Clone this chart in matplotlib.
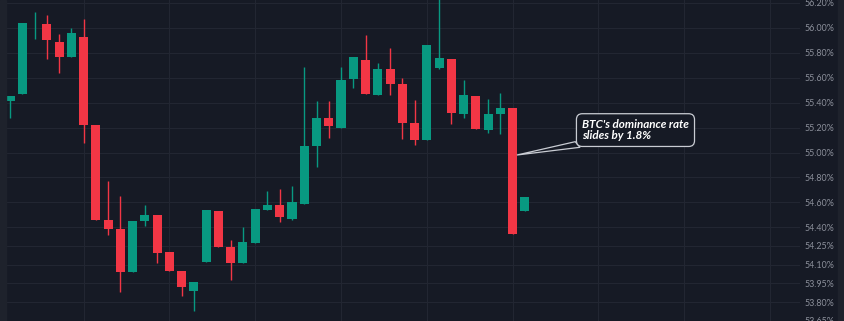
import matplotlib
matplotlib.use('Agg')
import matplotlib.pyplot as plt
from matplotlib.patches import Rectangle, Polygon

# datos de velas (dominancia BTC, %)
abre = [55.41, 55.47, 56.03, 56.03, 55.89, 55.77, 55.93, 55.22, 54.46, 54.39,
        54.04, 54.45, 54.50, 54.20, 54.05, 53.89, 54.12, 54.53, 54.24, 54.11,
        54.27, 54.54, 54.58, 54.47, 54.59, 55.05, 55.28, 55.20, 55.59, 55.74,
        55.46, 55.67, 55.55, 55.24, 55.10, 55.68, 55.75, 55.31, 55.45, 55.18,
        55.31, 55.36, 54.53]
maximo = [55.45, 56.04, 56.13, 56.10, 55.95, 56.00, 56.07, 55.22, 54.77, 54.65,
          54.45, 54.58, 54.50, 54.20, 54.05, 53.96, 54.54, 54.53, 54.30, 54.40,
          54.55, 54.69, 54.71, 54.73, 55.69, 55.41, 55.41, 55.69, 55.77, 55.94,
          55.72, 55.84, 55.60, 55.42, 55.86, 56.30, 55.75, 55.58, 55.45, 55.43,
          55.48, 55.36, 54.64]
minimo = [55.28, 55.47, 55.91, 55.75, 55.64, 55.77, 55.08, 54.46, 54.34, 53.88,
          54.04, 54.41, 54.11, 54.05, 53.85, 53.73, 54.12, 54.24, 53.98, 54.11,
          54.27, 54.54, 54.44, 54.46, 54.59, 54.88, 55.12, 55.20, 55.52, 55.47,
          55.46, 55.46, 55.11, 55.06, 55.10, 55.67, 55.23, 55.28, 55.19, 55.16,
          55.15, 54.35, 54.53]
cierre = [55.45, 56.04, 56.035, 55.90, 55.77, 55.96, 55.22, 54.46, 54.39, 54.04,
          54.45, 54.50, 54.19, 54.05, 53.92, 53.96, 54.54, 54.24, 54.11, 54.28,
          54.55, 54.58, 54.48, 54.60, 55.05, 55.28, 55.21, 55.58, 55.77, 55.47,
          55.67, 55.55, 55.24, 55.10, 55.86, 55.76, 55.32, 55.46, 55.19, 55.31,
          55.36, 54.35, 54.64]

marcas_y = [56.20, 56.00, 55.80, 55.60, 55.40, 55.20, 55.00, 54.80, 54.60,
            54.40, 54.25, 54.10, 53.95, 53.80, 53.65]
etiquetas_y = ['%.2f%%' % v for v in marcas_y]

texto_nota = "BTC's dominance rate\nslides by 1.8%"
vela_nota = 41      # vela a la que apunta la nota
valor_nota = 54.98

fondo = '#161a25'
verde = '#089981'
rojo = '#f23645'
rejilla = '#222632'

fig = plt.figure(figsize=(8.45, 3.21), dpi=100, facecolor=fondo)
fig.patches.append(Rectangle((0, 0), 6 / 845, 1, transform=fig.transFigure,
                             color='#1e222c', zorder=0))
fig.patches.append(Rectangle((838 / 845, 0), 7 / 845, 1, transform=fig.transFigure,
                             color='#1e222c', zorder=0))
ax = fig.add_axes([6 / 845, 0, 794 / 845, 1])
ax.set_facecolor(fondo)

x = range(len(abre))
for i in x:
    color = verde if cierre[i] >= abre[i] else rojo
    ax.vlines(i, minimo[i], maximo[i], color=color, linewidth=1.0, zorder=2)
    base = min(abre[i], cierre[i])
    alto = abs(cierre[i] - abre[i])
    ax.bar(i, alto, bottom=base, width=0.74, color=color, zorder=3)

ax.set_xlim(-0.33, 64.44)
ax.set_ylim(53.648, 56.224)

ax.set_yticks(marcas_y)
ax.set_yticklabels(etiquetas_y)
ax.yaxis.tick_right()
ax.tick_params(axis='y', length=0, pad=3.6, labelsize=6.4, labelcolor='#8c909b')
for t in ax.get_yticklabels():
    t.set_fontfamily('Lato')
ax.set_xticks(range(6, 65, 7))
ax.tick_params(axis='x', length=0, labelbottom=False)
ax.grid(True, color=rejilla, linewidth=0.8, zorder=0)
for s in ax.spines.values():
    s.set_visible(False)

# nota con flecha tipo bocadillo
punta = Polygon([(vela_nota + 0.35, valor_nota), (46.1, 55.087), (46.5, 55.042)],
                closed=True, facecolor=fondo, edgecolor='#c9ccd3',
                linewidth=0.9, zorder=4)
ax.add_patch(punta)
ax.text(46.66, 55.18, texto_nota, ha='left', va='center', color='white',
        fontsize=8.4, fontfamily='Lato', fontweight='bold', fontstyle='italic',
        linespacing=0.95, zorder=5,
        bbox=dict(boxstyle='round,pad=0.48,rounding_size=0.5', facecolor=fondo,
                  edgecolor='#c9ccd3', linewidth=0.9))

plt.savefig('out.png', dpi=100, facecolor=fondo)
